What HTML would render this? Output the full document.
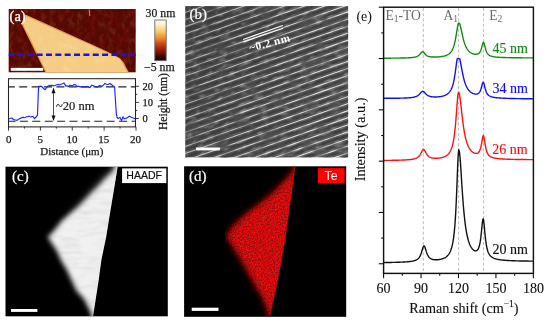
<!DOCTYPE html>
<html><head><meta charset="utf-8">
<style>
html,body{margin:0;padding:0;background:#fff;}
body{width:550px;height:325px;overflow:hidden;position:relative;}
svg{position:absolute;left:0;top:0;display:block;}
.serif{font-family:"Liberation Serif","DejaVu Serif",serif;}
.sans{font-family:"Liberation Sans","DejaVu Sans",sans-serif;}
</style></head>
<body>
<svg width="550" height="325" viewBox="0 0 550 325">
<defs>
  <filter id="afmnoise" x="0" y="0" width="1" height="1">
    <feTurbulence type="fractalNoise" baseFrequency="0.22 0.14" numOctaves="3" seed="4" result="n"/>
    <feColorMatrix in="n" type="matrix" values="0 0 0 0 0.55  0 0 0 0 0.08  0 0 0 0 0.03  0 0 0 0.8 -0.33" result="c"/>
    <feComposite in="c" in2="SourceGraphic" operator="in"/>
  </filter>
  <filter id="afmdark" x="0" y="0" width="1" height="1">
    <feTurbulence type="fractalNoise" baseFrequency="0.07" numOctaves="2" seed="11" result="n"/>
    <feColorMatrix in="n" type="matrix" values="0 0 0 0 0.12  0 0 0 0 0.0  0 0 0 0 0  0 0 0 1.3 -0.45" result="c"/>
    <feComposite in="c" in2="SourceGraphic" operator="in"/>
  </filter>
  <filter id="flakenoise" x="0" y="0" width="1" height="1">
    <feTurbulence type="fractalNoise" baseFrequency="0.14" numOctaves="2" seed="9" result="n"/>
    <feColorMatrix in="n" type="matrix" values="0 0 0 0 1  0 0 0 0 0.9  0 0 0 0 0.66  0 0 0 0.7 -0.38" result="c"/>
    <feComposite in="c" in2="SourceGraphic" operator="in"/>
  </filter>
  <filter id="temdark" x="0" y="0" width="1" height="1">
    <feTurbulence type="fractalNoise" baseFrequency="0.09 0.22" numOctaves="3" seed="2" result="n"/>
    <feColorMatrix in="n" type="matrix" values="0 0 0 0 0.08  0 0 0 0 0.08  0 0 0 0 0.08  0 0 0 -2.8 1.6" result="c"/>
    <feComposite in="c" in2="SourceGraphic" operator="in"/>
  </filter>
  <filter id="temlight" x="0" y="0" width="1" height="1">
    <feTurbulence type="fractalNoise" baseFrequency="0.1 0.25" numOctaves="2" seed="7" result="n"/>
    <feColorMatrix in="n" type="matrix" values="0 0 0 0 0.7  0 0 0 0 0.7  0 0 0 0 0.7  0 0 0 1.3 -0.68" result="c"/>
    <feComposite in="c" in2="SourceGraphic" operator="in"/>
  </filter>
  <filter id="fringeVar" x="185" y="6" width="164" height="152" filterUnits="userSpaceOnUse">
    <feTurbulence type="fractalNoise" baseFrequency="0.07" numOctaves="2" seed="8" result="n"/>
    <feColorMatrix in="n" type="matrix" values="0 0 0 0 0  0 0 0 0 0  0 0 0 0 0  0 0 0 2.4 -0.35" result="m"/>
    <feComposite in="SourceGraphic" in2="m" operator="in"/>
  </filter>
  <filter id="blurT" x="-0.2" y="-0.2" width="1.4" height="1.4">
    <feGaussianBlur stdDeviation="2.9"/>
  </filter>
  <filter id="blurW" x="-0.3" y="-0.3" width="1.6" height="1.6">
    <feGaussianBlur stdDeviation="4.2"/>
  </filter>
  <linearGradient id="gTop" x1="0" y1="172" x2="0" y2="215" gradientUnits="userSpaceOnUse">
    <stop offset="0" stop-color="#fff"/><stop offset="1" stop-color="#000"/>
  </linearGradient>
  <linearGradient id="gBot" x1="0" y1="166" x2="0" y2="225" gradientUnits="userSpaceOnUse">
    <stop offset="0" stop-color="#000"/><stop offset="1" stop-color="#fff"/>
  </linearGradient>
  <mask id="topMaskC" maskUnits="userSpaceOnUse" x="0" y="160" width="180" height="165"><rect x="0" y="160" width="180" height="165" fill="url(#gTop)"/></mask>
  <mask id="botMaskC" maskUnits="userSpaceOnUse" x="0" y="160" width="180" height="165"><rect x="0" y="160" width="180" height="165" fill="url(#gBot)"/></mask>
  <filter id="blurR" x="-0.2" y="-0.2" width="1.4" height="1.4">
    <feGaussianBlur stdDeviation="3"/>
  </filter>
  <filter id="soft" x="-0.1" y="-0.1" width="1.2" height="1.2">
    <feGaussianBlur stdDeviation="0.35"/>
  </filter>
  <filter id="rednoise" x="0" y="0" width="1" height="1">
    <feTurbulence type="fractalNoise" baseFrequency="0.65" numOctaves="2" seed="5" result="n"/>
    <feColorMatrix in="n" type="matrix" values="0 0 0 0 0  0 0 0 0 0  0 0 0 0 0  0 0 0 -1.0 1.32" result="c"/>
    <feComposite in="SourceGraphic" in2="c" operator="in"/>
  </filter>
  <filter id="haadfnoise" x="0" y="0" width="1" height="1">
    <feTurbulence type="fractalNoise" baseFrequency="0.05 0.2" numOctaves="2" seed="3" result="n"/>
    <feColorMatrix in="n" type="matrix" values="0 0 0 0 0.4  0 0 0 0 0.4  0 0 0 0 0.4  0 0 0 0.9 -0.38" result="c"/>
    <feComposite in="c" in2="SourceGraphic" operator="in"/>
  </filter>
  <linearGradient id="cbar" x1="0" y1="0" x2="0" y2="1">
    <stop offset="0" stop-color="#fffcf0"/>
    <stop offset="0.12" stop-color="#fdefc8"/>
    <stop offset="0.3" stop-color="#f7c560"/>
    <stop offset="0.45" stop-color="#ea8a2c"/>
    <stop offset="0.6" stop-color="#c64410"/>
    <stop offset="0.76" stop-color="#8a1a02"/>
    <stop offset="0.9" stop-color="#3a0400"/>
    <stop offset="1" stop-color="#160000"/>
  </linearGradient>
  <linearGradient id="fringeFade" x1="0" y1="0" x2="1" y2="0.3">
    <stop offset="0" stop-color="#fff" stop-opacity="0.6"/>
    <stop offset="0.5" stop-color="#fff" stop-opacity="0.8"/>
    <stop offset="1" stop-color="#fff" stop-opacity="1"/>
  </linearGradient>
  <linearGradient id="temBg" x1="0" y1="0" x2="1" y2="0.4">
    <stop offset="0" stop-color="#404040"/>
    <stop offset="1" stop-color="#5a5a5a"/>
  </linearGradient>
  <mask id="fringeMask"><rect x="185" y="6" width="164" height="152" fill="url(#fringeFade)"/></mask>
  <clipPath id="clipA"><rect x="8.5" y="9" width="127.3" height="63.5"/></clipPath>
  <clipPath id="clipB"><rect x="185.2" y="6.1" width="163" height="151.5"/></clipPath>
  <clipPath id="clipC"><polygon points="-50,166.7 117.6,166.7 112.2,200 106.2,236.9 101.4,260 98.8,279.6 93.1,316.3 -50,316.3"/></clipPath>
  <clipPath id="clipD"><polygon points="130,166.3 295.6,166.3 288.8,214.2 285.2,240 279.1,274.3 270.2,316.8 130,316.8"/></clipPath>
  <clipPath id="clipE"><rect x="383.6" y="7.2" width="149.8" height="266.2"/></clipPath>
</defs>

<!-- ============ Panel (a) AFM ============ -->
<g clip-path="url(#clipA)">
  <rect x="8.5" y="9" width="127.3" height="63.5" fill="#520b02"/>
  <rect x="8.5" y="9" width="127.3" height="63.5" fill="#fff" filter="url(#afmnoise)"/>
  <rect x="8.5" y="9" width="127.3" height="63.5" fill="#fff" filter="url(#afmdark)"/>
  <polygon points="25.6,15.3 95,46.5 111.1,54 119.8,58.8 123,62.6 125.1,66.9 128.2,72.6 46.3,72.6 22.2,23.6" fill="#f4cc84" stroke="#e2a456" stroke-width="1.3" stroke-linejoin="round"/>
  <polygon points="25.6,15.3 95,46.5 111.1,54 119.8,58.8 123,62.6 125.1,66.9 128.2,72.6 46.3,72.6 22.2,23.6" fill="#fff" filter="url(#flakenoise)"/>
  <line x1="89.3" y1="9.5" x2="89.8" y2="16" stroke="#d09050" stroke-width="1"/>
  <line x1="8.5" y1="54.8" x2="135.8" y2="54.8" stroke="#1414ee" stroke-width="2.6" stroke-dasharray="6 3.35" stroke-dashoffset="-0.1"/>
  <rect x="10.8" y="67.9" width="32.4" height="2.9" fill="#fff"/>
</g>
<text x="9.6" y="20.6" class="serif" font-size="14.5" fill="#fff" stroke="#fff" stroke-width="0.25">(a)</text>

<!-- colorbar -->
<rect x="154.8" y="20" width="11.4" height="40.7" fill="url(#cbar)" stroke="#6a6a6a" stroke-width="0.9"/>
<g class="serif" font-size="11.8" fill="#1a1a1a" stroke="#1a1a1a" stroke-width="0.25" text-anchor="middle">
<text x="160.4" y="16.7">30 nm</text>
<text x="159.4" y="70.7">−5 nm</text>
</g>

<!-- ============ Profile plot ============ -->
<g stroke="#222" stroke-width="0.9" fill="none">
  <line x1="8.5" y1="86.9" x2="135.5" y2="86.9" stroke-dasharray="8 4.4" stroke-dashoffset="1.7" stroke-width="1.1"/>
  <line x1="8.5" y1="121.2" x2="135.5" y2="121.2" stroke-dasharray="8 4.4" stroke-dashoffset="1.0" stroke-width="1.1"/>
</g>
<path d="M8.50,118.90 L10.00,118.50 L11.00,118.20 L12.00,117.90 L13.50,119.60 L15.50,120.00 L17.00,120.30 L19.00,118.90 L20.00,118.40 L21.00,117.90 L22.00,117.60 L23.00,117.20 L24.00,117.90 L25.00,117.50 L26.00,117.00 L27.00,116.80 L28.00,116.60 L29.00,116.10 L30.00,116.80 L31.00,117.00 L32.00,116.30 L33.00,116.50 L34.50,118.50 L36.00,117.00 L37.50,115.10 L38.00,101.20 L38.50,88.50 L39.00,86.40 L40.00,86.40 L41.00,86.20 L42.00,86.80 L43.50,88.50 L45.00,89.60 L46.50,87.80 L48.00,85.90 L50.00,85.40 L52.00,85.30 L53.50,85.90 L55.00,85.50 L56.50,84.80 L58.00,84.50 L59.50,84.80 L61.00,84.20 L62.50,83.80 L64.00,83.00 L65.00,84.60 L66.00,86.20 L67.00,85.60 L68.00,86.60 L69.00,86.00 L70.00,85.10 L71.50,85.80 L73.00,85.30 L74.00,84.60 L75.00,84.50 L76.00,85.20 L77.00,86.60 L78.50,86.20 L80.00,86.90 L81.50,86.60 L83.00,87.10 L84.50,86.60 L86.00,87.10 L87.00,86.50 L88.00,86.90 L89.00,87.20 L90.00,87.50 L91.00,86.20 L92.00,85.10 L93.50,85.80 L95.00,86.40 L96.00,86.90 L97.00,87.10 L98.50,86.20 L100.00,85.40 L101.00,85.90 L102.00,86.40 L103.50,84.80 L105.00,83.50 L106.50,84.20 L108.00,84.50 L109.00,83.90 L110.00,83.50 L111.00,84.30 L112.00,85.00 L113.00,85.80 L114.00,86.40 L114.60,87.20 L115.50,101.00 L116.30,114.00 L117.00,117.00 L118.00,118.50 L119.00,117.90 L120.00,117.50 L121.00,119.40 L121.50,120.30 L122.30,118.80 L123.00,117.00 L124.00,118.40 L124.50,118.90 L125.80,118.30 L127.00,117.90 L128.30,117.00 L129.50,116.10 L130.80,116.90 L132.00,117.50 L133.80,118.20 L135.50,118.90" fill="none" stroke="#1428ff" stroke-width="1.15"/>
<g stroke="#222" stroke-width="0.8">
  <line x1="53.5" y1="89" x2="53.5" y2="119.5"/>
</g>
<polygon points="53.5,87.6 51.5,93.2 55.5,93.2" fill="#111"/>
<polygon points="53.5,121 51.5,115.4 55.5,115.4" fill="#111"/>
<text x="56" y="110" class="serif" font-size="12.5" fill="#1a1a1a" stroke="#1a1a1a" stroke-width="0.2">~20 nm</text>
<rect x="8.5" y="78.7" width="127" height="48.2" fill="none" stroke="#222" stroke-width="1.05"/>
<g stroke="#222" stroke-width="0.9">
<line x1="8.50" y1="126.9" x2="8.50" y2="130.6"/>
<line x1="24.44" y1="126.9" x2="24.44" y2="128.6"/>
<line x1="40.38" y1="126.9" x2="40.38" y2="130.6"/>
<line x1="56.31" y1="126.9" x2="56.31" y2="128.6"/>
<line x1="72.25" y1="126.9" x2="72.25" y2="130.6"/>
<line x1="88.19" y1="126.9" x2="88.19" y2="128.6"/>
<line x1="104.12" y1="126.9" x2="104.12" y2="130.6"/>
<line x1="120.06" y1="126.9" x2="120.06" y2="128.6"/>
<line x1="136.00" y1="126.9" x2="136.00" y2="130.6"/>
<line x1="135.5" y1="118.50" x2="138.9" y2="118.50"/>
<line x1="135.5" y1="110.45" x2="137.3" y2="110.45"/>
<line x1="135.5" y1="102.40" x2="138.9" y2="102.40"/>
<line x1="135.5" y1="94.35" x2="137.3" y2="94.35"/>
<line x1="135.5" y1="86.30" x2="138.9" y2="86.30"/>
</g>
<g class="serif" font-size="10.5" fill="#1a1a1a" stroke="#1a1a1a" stroke-width="0.25">
  <text x="142.6" y="90.2">20</text>
  <text x="142.6" y="106">10</text>
  <text x="142.6" y="122.2">0</text>
  <g text-anchor="middle" font-size="11">
  <text x="8.8" y="143.3">0</text>
  <text x="40.2" y="143.3">5</text>
  <text x="72" y="143.3">10</text>
  <text x="103.8" y="143.3">15</text>
  <text x="135.6" y="143.3">20</text>
  <text x="71.8" y="154.8">Distance (μm)</text>
  </g>
  <text transform="translate(166.5,101.6) rotate(-90)" text-anchor="middle" font-size="11.6">Height (nm)</text>
</g>

<!-- ============ Panel (b) HRTEM ============ -->
<g clip-path="url(#clipB)">
  <rect x="185.2" y="6.1" width="163" height="151.5" fill="url(#temBg)"/>
  <rect x="160" y="-30" width="215" height="225" fill="#fff" filter="url(#temdark)" transform="rotate(-19.3 267 82)"/>
  <rect x="160" y="-30" width="215" height="225" fill="#fff" filter="url(#temlight)" transform="rotate(-19.3 267 82)"/>
  <g mask="url(#fringeMask)"><g filter="url(#fringeVar)">
    <g stroke="#202020" stroke-width="2.4" opacity="0.45" transform="translate(0,3.3)">
    <line x1="180" y1="-204.20" x2="352" y2="-264.40"/>
<line x1="180" y1="-197.15" x2="352" y2="-257.35"/>
<line x1="180" y1="-190.10" x2="352" y2="-250.30"/>
<line x1="180" y1="-183.05" x2="352" y2="-243.25"/>
<line x1="180" y1="-176.00" x2="352" y2="-236.20"/>
<line x1="180" y1="-168.95" x2="352" y2="-229.15"/>
<line x1="180" y1="-161.90" x2="352" y2="-222.10"/>
<line x1="180" y1="-154.85" x2="352" y2="-215.05"/>
<line x1="180" y1="-147.80" x2="352" y2="-208.00"/>
<line x1="180" y1="-140.75" x2="352" y2="-200.95"/>
<line x1="180" y1="-133.70" x2="352" y2="-193.90"/>
<line x1="180" y1="-126.65" x2="352" y2="-186.85"/>
<line x1="180" y1="-119.60" x2="352" y2="-179.80"/>
<line x1="180" y1="-112.55" x2="352" y2="-172.75"/>
<line x1="180" y1="-105.50" x2="352" y2="-165.70"/>
<line x1="180" y1="-98.45" x2="352" y2="-158.65"/>
<line x1="180" y1="-91.40" x2="352" y2="-151.60"/>
<line x1="180" y1="-84.35" x2="352" y2="-144.55"/>
<line x1="180" y1="-77.30" x2="352" y2="-137.50"/>
<line x1="180" y1="-70.25" x2="352" y2="-130.45"/>
<line x1="180" y1="-63.20" x2="352" y2="-123.40"/>
<line x1="180" y1="-56.15" x2="352" y2="-116.35"/>
<line x1="180" y1="-49.10" x2="352" y2="-109.30"/>
<line x1="180" y1="-42.05" x2="352" y2="-102.25"/>
<line x1="180" y1="-35.00" x2="352" y2="-95.20"/>
<line x1="180" y1="-27.95" x2="352" y2="-88.15"/>
<line x1="180" y1="-20.90" x2="352" y2="-81.10"/>
<line x1="180" y1="-13.85" x2="352" y2="-74.05"/>
<line x1="180" y1="-6.80" x2="352" y2="-67.00"/>
<line x1="180" y1="0.25" x2="352" y2="-59.95"/>
<line x1="180" y1="7.30" x2="352" y2="-52.90"/>
<line x1="180" y1="14.35" x2="352" y2="-45.85"/>
<line x1="180" y1="21.40" x2="352" y2="-38.80"/>
<line x1="180" y1="28.45" x2="352" y2="-31.75"/>
<line x1="180" y1="35.50" x2="352" y2="-24.70"/>
<line x1="180" y1="42.55" x2="352" y2="-17.65"/>
<line x1="180" y1="49.60" x2="352" y2="-10.60"/>
<line x1="180" y1="56.65" x2="352" y2="-3.55"/>
<line x1="180" y1="63.70" x2="352" y2="3.50"/>
<line x1="180" y1="70.75" x2="352" y2="10.55"/>
<line x1="180" y1="77.80" x2="352" y2="17.60"/>
<line x1="180" y1="84.85" x2="352" y2="24.65"/>
<line x1="180" y1="91.90" x2="352" y2="31.70"/>
<line x1="180" y1="98.95" x2="352" y2="38.75"/>
<line x1="180" y1="106.00" x2="352" y2="45.80"/>
<line x1="180" y1="113.05" x2="352" y2="52.85"/>
<line x1="180" y1="120.10" x2="352" y2="59.90"/>
<line x1="180" y1="127.15" x2="352" y2="66.95"/>
<line x1="180" y1="134.20" x2="352" y2="74.00"/>
<line x1="180" y1="141.25" x2="352" y2="81.05"/>
<line x1="180" y1="148.30" x2="352" y2="88.10"/>
<line x1="180" y1="155.35" x2="352" y2="95.15"/>
<line x1="180" y1="162.40" x2="352" y2="102.20"/>
<line x1="180" y1="169.45" x2="352" y2="109.25"/>
<line x1="180" y1="176.50" x2="352" y2="116.30"/>
<line x1="180" y1="183.55" x2="352" y2="123.35"/>
<line x1="180" y1="190.60" x2="352" y2="130.40"/>
<line x1="180" y1="197.65" x2="352" y2="137.45"/>
<line x1="180" y1="204.70" x2="352" y2="144.50"/>
<line x1="180" y1="211.75" x2="352" y2="151.55"/>
<line x1="180" y1="218.80" x2="352" y2="158.60"/>
<line x1="180" y1="225.85" x2="352" y2="165.65"/>
<line x1="180" y1="232.90" x2="352" y2="172.70"/>
<line x1="180" y1="239.95" x2="352" y2="179.75"/>
<line x1="180" y1="247.00" x2="352" y2="186.80"/>
<line x1="180" y1="254.05" x2="352" y2="193.85"/>
<line x1="180" y1="261.10" x2="352" y2="200.90"/>
<line x1="180" y1="268.15" x2="352" y2="207.95"/>
<line x1="180" y1="275.20" x2="352" y2="215.00"/>
<line x1="180" y1="282.25" x2="352" y2="222.05"/>
    </g>
    <g stroke="#ececec" stroke-width="1.05" filter="url(#soft)">
    <line x1="180" y1="-204.20" x2="352" y2="-264.40"/>
<line x1="180" y1="-197.15" x2="352" y2="-257.35"/>
<line x1="180" y1="-190.10" x2="352" y2="-250.30"/>
<line x1="180" y1="-183.05" x2="352" y2="-243.25"/>
<line x1="180" y1="-176.00" x2="352" y2="-236.20"/>
<line x1="180" y1="-168.95" x2="352" y2="-229.15"/>
<line x1="180" y1="-161.90" x2="352" y2="-222.10"/>
<line x1="180" y1="-154.85" x2="352" y2="-215.05"/>
<line x1="180" y1="-147.80" x2="352" y2="-208.00"/>
<line x1="180" y1="-140.75" x2="352" y2="-200.95"/>
<line x1="180" y1="-133.70" x2="352" y2="-193.90"/>
<line x1="180" y1="-126.65" x2="352" y2="-186.85"/>
<line x1="180" y1="-119.60" x2="352" y2="-179.80"/>
<line x1="180" y1="-112.55" x2="352" y2="-172.75"/>
<line x1="180" y1="-105.50" x2="352" y2="-165.70"/>
<line x1="180" y1="-98.45" x2="352" y2="-158.65"/>
<line x1="180" y1="-91.40" x2="352" y2="-151.60"/>
<line x1="180" y1="-84.35" x2="352" y2="-144.55"/>
<line x1="180" y1="-77.30" x2="352" y2="-137.50"/>
<line x1="180" y1="-70.25" x2="352" y2="-130.45"/>
<line x1="180" y1="-63.20" x2="352" y2="-123.40"/>
<line x1="180" y1="-56.15" x2="352" y2="-116.35"/>
<line x1="180" y1="-49.10" x2="352" y2="-109.30"/>
<line x1="180" y1="-42.05" x2="352" y2="-102.25"/>
<line x1="180" y1="-35.00" x2="352" y2="-95.20"/>
<line x1="180" y1="-27.95" x2="352" y2="-88.15"/>
<line x1="180" y1="-20.90" x2="352" y2="-81.10"/>
<line x1="180" y1="-13.85" x2="352" y2="-74.05"/>
<line x1="180" y1="-6.80" x2="352" y2="-67.00"/>
<line x1="180" y1="0.25" x2="352" y2="-59.95"/>
<line x1="180" y1="7.30" x2="352" y2="-52.90"/>
<line x1="180" y1="14.35" x2="352" y2="-45.85"/>
<line x1="180" y1="21.40" x2="352" y2="-38.80"/>
<line x1="180" y1="28.45" x2="352" y2="-31.75"/>
<line x1="180" y1="35.50" x2="352" y2="-24.70"/>
<line x1="180" y1="42.55" x2="352" y2="-17.65"/>
<line x1="180" y1="49.60" x2="352" y2="-10.60"/>
<line x1="180" y1="56.65" x2="352" y2="-3.55"/>
<line x1="180" y1="63.70" x2="352" y2="3.50"/>
<line x1="180" y1="70.75" x2="352" y2="10.55"/>
<line x1="180" y1="77.80" x2="352" y2="17.60"/>
<line x1="180" y1="84.85" x2="352" y2="24.65"/>
<line x1="180" y1="91.90" x2="352" y2="31.70"/>
<line x1="180" y1="98.95" x2="352" y2="38.75"/>
<line x1="180" y1="106.00" x2="352" y2="45.80"/>
<line x1="180" y1="113.05" x2="352" y2="52.85"/>
<line x1="180" y1="120.10" x2="352" y2="59.90"/>
<line x1="180" y1="127.15" x2="352" y2="66.95"/>
<line x1="180" y1="134.20" x2="352" y2="74.00"/>
<line x1="180" y1="141.25" x2="352" y2="81.05"/>
<line x1="180" y1="148.30" x2="352" y2="88.10"/>
<line x1="180" y1="155.35" x2="352" y2="95.15"/>
<line x1="180" y1="162.40" x2="352" y2="102.20"/>
<line x1="180" y1="169.45" x2="352" y2="109.25"/>
<line x1="180" y1="176.50" x2="352" y2="116.30"/>
<line x1="180" y1="183.55" x2="352" y2="123.35"/>
<line x1="180" y1="190.60" x2="352" y2="130.40"/>
<line x1="180" y1="197.65" x2="352" y2="137.45"/>
<line x1="180" y1="204.70" x2="352" y2="144.50"/>
<line x1="180" y1="211.75" x2="352" y2="151.55"/>
<line x1="180" y1="218.80" x2="352" y2="158.60"/>
<line x1="180" y1="225.85" x2="352" y2="165.65"/>
<line x1="180" y1="232.90" x2="352" y2="172.70"/>
<line x1="180" y1="239.95" x2="352" y2="179.75"/>
<line x1="180" y1="247.00" x2="352" y2="186.80"/>
<line x1="180" y1="254.05" x2="352" y2="193.85"/>
<line x1="180" y1="261.10" x2="352" y2="200.90"/>
<line x1="180" y1="268.15" x2="352" y2="207.95"/>
<line x1="180" y1="275.20" x2="352" y2="215.00"/>
<line x1="180" y1="282.25" x2="352" y2="222.05"/>
    </g>
  </g></g>
  <rect x="196" y="147.5" width="23.8" height="2.9" fill="#fff"/>
</g>
<g stroke="#fff" stroke-width="1.05">
  <line x1="243.1" y1="39.4" x2="282.8" y2="25.5"/>
  <line x1="243.3" y1="42" x2="283.2" y2="28.2"/>
</g>
<text transform="translate(250.3,51.6) rotate(-14.5)" class="serif" font-size="11.3" font-weight="bold" letter-spacing="0.5" fill="#fff">~0.2 nm</text>
<text x="189.6" y="18.6" class="serif" font-size="15" fill="#fff" stroke="#fff" stroke-width="0.2">(b)</text>

<!-- ============ Panel (c) HAADF ============ -->
<rect x="5.5" y="166.7" width="162.3" height="149.6" fill="#000"/>
<g clip-path="url(#clipC)">
  <polygon points="160,150 119.5,150 117.5,163 114.5,172 106.5,178.5 100.5,185 92.4,192.5 85.5,199.5 78.4,206.5 70,213.5 62,220.5 55.8,228.5 51.5,233.5 47.8,237 57.5,252.1 61.1,260.5 66.3,268.7 74,285.3 76.4,290.5 84.3,299.2 91.2,313 94,330 160,330" fill="#f0f0f0" filter="url(#blurT)"/>
  <g mask="url(#topMaskC)"><polygon points="160,150 119.5,150 117.5,163 114.5,172 106.5,178.5 100.5,185 92.4,192.5 85.5,199.5 78.4,206.5 70,213.5 62,220.5 55.8,228.5 51.5,233.5 47.8,237 57.5,252.1 61.1,260.5 66.3,268.7 74,285.3 76.4,290.5 84.3,299.2 91.2,313 94,330 160,330" fill="#f0f0f0" filter="url(#blurW)"/></g>
  <polygon points="160,150 119.5,150 117.5,163 114.5,172 106.5,178.5 100.5,185 92.4,192.5 85.5,199.5 78.4,206.5 70,213.5 62,220.5 55.8,228.5 51.5,233.5 47.8,237 57.5,252.1 61.1,260.5 66.3,268.7 74,285.3 76.4,290.5 84.3,299.2 91.2,313 94,330 160,330" fill="#fff" filter="url(#haadfnoise)" opacity="0.5"/>
</g>
<rect x="11" y="309" width="26.4" height="2.9" fill="#fff"/>
<rect x="122.1" y="168.4" width="44.2" height="14.7" fill="#fff"/>
<text x="144.1" y="179.4" class="sans" font-size="10.5" fill="#111" stroke="#111" stroke-width="0.2" text-anchor="middle">HAADF</text>
<text x="12" y="180.8" class="serif" font-size="15" fill="#fff" stroke="#fff" stroke-width="0.2">(c)</text>

<!-- ============ Panel (d) EDS ============ -->
<rect x="184.1" y="166.3" width="162.1" height="150.5" fill="#000"/>
<g clip-path="url(#clipD)">
  <g filter="url(#rednoise)">
    <polygon points="340,150 298,150 294.5,165 292.3,171.2 286.2,178.8 278.5,186.5 270.8,194.2 263,200.4 255.4,206.5 247.7,211.9 240.5,218.5 234.7,224 230.5,229.5 225.4,235.5 239.9,258.6 251.6,279.5 262.1,297.8 268.7,313.5 271,330 340,330" fill="#f41010" filter="url(#blurR)"/>
  </g>
</g>
<rect x="191.7" y="307.7" width="26.8" height="3.2" fill="#fff"/>
<rect x="317.8" y="168.1" width="26.8" height="15" fill="#ff0000"/>
<text x="331" y="179.9" class="sans" font-size="12.3" fill="#fff" text-anchor="middle">Te</text>
<text x="189" y="180.6" class="serif" font-size="15" fill="#fff" stroke="#fff" stroke-width="0.2">(d)</text>

<!-- ============ Panel (e) Raman ============ -->
<g stroke="#a8a8a8" stroke-width="0.8" stroke-dasharray="3 2.2">
  <line x1="423.3" y1="8" x2="423.3" y2="273"/>
  <line x1="458.6" y1="8" x2="458.6" y2="273"/>
  <line x1="483.6" y1="8" x2="483.6" y2="273"/>
</g>
<g clip-path="url(#clipE)" fill="none" stroke-width="1.4" stroke-linejoin="round">
  <path d="M383.60,58.23 L384.00,58.23 L384.40,58.23 L384.80,58.22 L385.20,58.22 L385.60,58.22 L386.00,58.22 L386.40,58.21 L386.80,58.21 L387.20,58.21 L387.60,58.20 L388.00,58.20 L388.40,58.20 L388.80,58.19 L389.20,58.19 L389.60,58.19 L390.00,58.18 L390.40,58.18 L390.80,58.18 L391.20,58.17 L391.60,58.17 L392.00,58.17 L392.40,58.16 L392.80,58.16 L393.20,58.15 L393.60,58.15 L394.00,58.15 L394.40,58.14 L394.80,58.14 L395.20,58.13 L395.60,58.13 L396.00,58.12 L396.40,58.12 L396.80,58.11 L397.20,58.11 L397.60,58.10 L398.00,58.10 L398.40,58.09 L398.80,58.08 L399.20,58.08 L399.60,58.07 L400.00,58.06 L400.40,58.06 L400.80,58.05 L401.20,58.04 L401.60,58.03 L402.00,58.03 L402.40,58.02 L402.80,58.01 L403.20,58.00 L403.60,57.99 L404.00,57.98 L404.40,57.97 L404.80,57.96 L405.20,57.94 L405.60,57.93 L406.00,57.92 L406.40,57.90 L406.80,57.89 L407.20,57.87 L407.60,57.86 L408.00,57.84 L408.40,57.82 L408.80,57.80 L409.20,57.78 L409.60,57.75 L410.00,57.73 L410.40,57.70 L410.80,57.67 L411.20,57.64 L411.60,57.60 L412.00,57.56 L412.40,57.52 L412.80,57.47 L413.20,57.42 L413.60,57.36 L414.00,57.30 L414.40,57.23 L414.80,57.15 L415.20,57.06 L415.60,56.96 L416.00,56.84 L416.40,56.71 L416.80,56.56 L417.20,56.38 L417.60,56.19 L418.00,55.96 L418.40,55.69 L418.80,55.38 L419.20,55.03 L419.60,54.63 L420.00,54.19 L420.40,53.70 L420.80,53.19 L421.20,52.70 L421.60,52.26 L422.00,51.94 L422.40,51.77 L422.80,51.80 L423.20,52.00 L423.60,52.35 L424.00,52.79 L424.40,53.28 L424.80,53.76 L425.20,54.22 L425.60,54.63 L426.00,55.00 L426.40,55.32 L426.80,55.59 L427.20,55.83 L427.60,56.03 L428.00,56.20 L428.40,56.34 L428.80,56.47 L429.20,56.57 L429.60,56.66 L430.00,56.74 L430.40,56.80 L430.80,56.86 L431.20,56.90 L431.60,56.94 L432.00,56.97 L432.40,57.00 L432.80,57.02 L433.20,57.03 L433.60,57.04 L434.00,57.05 L434.40,57.05 L434.80,57.05 L435.20,57.05 L435.60,57.04 L436.00,57.03 L436.40,57.01 L436.80,57.00 L437.20,56.98 L437.60,56.95 L438.00,56.93 L438.40,56.90 L438.80,56.87 L439.20,56.83 L439.60,56.79 L440.00,56.75 L440.40,56.70 L440.80,56.65 L441.20,56.60 L441.60,56.54 L442.00,56.48 L442.40,56.41 L442.80,56.34 L443.20,56.26 L443.60,56.17 L444.00,56.07 L444.40,55.97 L444.80,55.86 L445.20,55.74 L445.60,55.61 L446.00,55.47 L446.40,55.32 L446.80,55.15 L447.20,54.96 L447.60,54.76 L448.00,54.54 L448.40,54.29 L448.80,54.02 L449.20,53.72 L449.60,53.38 L450.00,53.01 L450.40,52.60 L450.80,52.13 L451.20,51.61 L451.60,51.03 L452.00,50.36 L452.40,49.61 L452.80,48.76 L453.20,47.79 L453.60,46.69 L454.00,45.44 L454.40,44.01 L454.80,42.40 L455.20,40.57 L455.60,38.54 L456.00,36.30 L456.40,33.89 L456.80,31.39 L457.20,28.91 L457.60,26.61 L458.00,24.71 L458.40,23.41 L458.80,22.88 L459.20,23.05 L459.60,23.70 L460.00,24.75 L460.40,26.15 L460.80,27.79 L461.20,29.59 L461.60,31.46 L462.00,33.34 L462.40,35.17 L462.80,36.93 L463.20,38.58 L463.60,40.11 L464.00,41.52 L464.40,42.81 L464.80,43.99 L465.20,45.06 L465.60,46.03 L466.00,46.91 L466.40,47.70 L466.80,48.42 L467.20,49.07 L467.60,49.66 L468.00,50.19 L468.40,50.68 L468.80,51.11 L469.20,51.51 L469.60,51.87 L470.00,52.20 L470.40,52.49 L470.80,52.76 L471.20,53.01 L471.60,53.22 L472.00,53.42 L472.40,53.60 L472.80,53.75 L473.20,53.89 L473.60,54.01 L474.00,54.10 L474.40,54.19 L474.80,54.25 L475.20,54.29 L475.60,54.31 L476.00,54.31 L476.40,54.29 L476.80,54.24 L477.20,54.15 L477.60,54.03 L478.00,53.87 L478.40,53.65 L478.80,53.37 L479.20,53.02 L479.60,52.56 L480.00,51.99 L480.40,51.27 L480.80,50.37 L481.20,49.27 L481.60,47.95 L482.00,46.44 L482.40,44.86 L482.80,43.45 L483.20,42.51 L483.60,42.34 L484.00,43.01 L484.40,44.31 L484.80,45.93 L485.20,47.57 L485.60,49.07 L486.00,50.37 L486.40,51.45 L486.80,52.34 L487.20,53.07 L487.60,53.67 L488.00,54.17 L488.40,54.58 L488.80,54.92 L489.20,55.22 L489.60,55.47 L490.00,55.68 L490.40,55.86 L490.80,56.03 L491.20,56.17 L491.60,56.29 L492.00,56.40 L492.40,56.50 L492.80,56.59 L493.20,56.67 L493.60,56.74 L494.00,56.81 L494.40,56.87 L494.80,56.92 L495.20,56.97 L495.60,57.02 L496.00,57.06 L496.40,57.10 L496.80,57.14 L497.20,57.17 L497.60,57.21 L498.00,57.24 L498.40,57.26 L498.80,57.29 L499.20,57.32 L499.60,57.34 L500.00,57.36 L500.40,57.38 L500.80,57.40 L501.20,57.42 L501.60,57.44 L502.00,57.46 L502.40,57.47 L502.80,57.49 L503.20,57.50 L503.60,57.52 L504.00,57.53 L504.40,57.55 L504.80,57.56 L505.20,57.57 L505.60,57.58 L506.00,57.59 L506.40,57.60 L506.80,57.61 L507.20,57.62 L507.60,57.63 L508.00,57.64 L508.40,57.65 L508.80,57.66 L509.20,57.67 L509.60,57.67 L510.00,57.68 L510.40,57.69 L510.80,57.70 L511.20,57.70 L511.60,57.71 L512.00,57.72 L512.40,57.72 L512.80,57.73 L513.20,57.73 L513.60,57.74 L514.00,57.74 L514.40,57.75 L514.80,57.75 L515.20,57.76 L515.60,57.76 L516.00,57.77 L516.40,57.77 L516.80,57.78 L517.20,57.78 L517.60,57.79 L518.00,57.79 L518.40,57.79 L518.80,57.80 L519.20,57.80 L519.60,57.80 L520.00,57.81 L520.40,57.81 L520.80,57.81 L521.20,57.82 L521.60,57.82 L522.00,57.82 L522.40,57.83 L522.80,57.83 L523.20,57.83 L523.60,57.83 L524.00,57.84 L524.40,57.84 L524.80,57.84 L525.20,57.84 L525.60,57.85 L526.00,57.85 L526.40,57.85 L526.80,57.85 L527.20,57.85 L527.60,57.86 L528.00,57.86 L528.40,57.86 L528.80,57.86 L529.20,57.86 L529.60,57.87 L530.00,57.87 L530.40,57.87 L530.80,57.87 L531.20,57.87 L531.60,57.87 L532.00,57.87 L532.40,57.88 L532.80,57.88 L533.20,57.88" stroke="#148a14"/>
  <path d="M383.60,98.31 L384.00,98.31 L384.40,98.31 L384.80,98.30 L385.20,98.30 L385.60,98.30 L386.00,98.30 L386.40,98.30 L386.80,98.30 L387.20,98.30 L387.60,98.29 L388.00,98.29 L388.40,98.29 L388.80,98.29 L389.20,98.29 L389.60,98.28 L390.00,98.28 L390.40,98.28 L390.80,98.28 L391.20,98.27 L391.60,98.27 L392.00,98.27 L392.40,98.27 L392.80,98.26 L393.20,98.26 L393.60,98.26 L394.00,98.25 L394.40,98.25 L394.80,98.24 L395.20,98.24 L395.60,98.23 L396.00,98.23 L396.40,98.23 L396.80,98.22 L397.20,98.21 L397.60,98.21 L398.00,98.20 L398.40,98.20 L398.80,98.19 L399.20,98.18 L399.60,98.18 L400.00,98.17 L400.40,98.16 L400.80,98.15 L401.20,98.14 L401.60,98.13 L402.00,98.12 L402.40,98.11 L402.80,98.10 L403.20,98.09 L403.60,98.08 L404.00,98.07 L404.40,98.05 L404.80,98.04 L405.20,98.02 L405.60,98.01 L406.00,97.99 L406.40,97.97 L406.80,97.95 L407.20,97.93 L407.60,97.90 L408.00,97.88 L408.40,97.85 L408.80,97.82 L409.20,97.79 L409.60,97.76 L410.00,97.72 L410.40,97.69 L410.80,97.64 L411.20,97.60 L411.60,97.55 L412.00,97.49 L412.40,97.43 L412.80,97.37 L413.20,97.29 L413.60,97.21 L414.00,97.13 L414.40,97.03 L414.80,96.92 L415.20,96.80 L415.60,96.66 L416.00,96.51 L416.40,96.34 L416.80,96.15 L417.20,95.93 L417.60,95.69 L418.00,95.42 L418.40,95.12 L418.80,94.78 L419.20,94.40 L419.60,94.00 L420.00,93.56 L420.40,93.10 L420.80,92.65 L421.20,92.21 L421.60,91.83 L422.00,91.53 L422.40,91.34 L422.80,91.29 L423.20,91.38 L423.60,91.59 L424.00,91.91 L424.40,92.30 L424.80,92.73 L425.20,93.17 L425.60,93.60 L426.00,94.01 L426.40,94.38 L426.80,94.72 L427.20,95.03 L427.60,95.30 L428.00,95.54 L428.40,95.75 L428.80,95.93 L429.20,96.09 L429.60,96.23 L430.00,96.36 L430.40,96.46 L430.80,96.55 L431.20,96.63 L431.60,96.70 L432.00,96.76 L432.40,96.81 L432.80,96.85 L433.20,96.88 L433.60,96.91 L434.00,96.93 L434.40,96.94 L434.80,96.95 L435.20,96.95 L435.60,96.95 L436.00,96.94 L436.40,96.93 L436.80,96.92 L437.20,96.90 L437.60,96.87 L438.00,96.84 L438.40,96.81 L438.80,96.77 L439.20,96.73 L439.60,96.68 L440.00,96.63 L440.40,96.57 L440.80,96.51 L441.20,96.44 L441.60,96.36 L442.00,96.28 L442.40,96.18 L442.80,96.09 L443.20,95.98 L443.60,95.86 L444.00,95.73 L444.40,95.59 L444.80,95.44 L445.20,95.27 L445.60,95.09 L446.00,94.89 L446.40,94.67 L446.80,94.43 L447.20,94.17 L447.60,93.88 L448.00,93.56 L448.40,93.20 L448.80,92.81 L449.20,92.37 L449.60,91.88 L450.00,91.34 L450.40,90.73 L450.80,90.04 L451.20,89.26 L451.60,88.38 L452.00,87.39 L452.40,86.26 L452.80,84.98 L453.20,83.53 L453.60,81.87 L454.00,79.99 L454.40,77.87 L454.80,75.50 L455.20,72.87 L455.60,70.02 L456.00,67.00 L456.40,63.94 L456.80,61.00 L457.20,58.88 L457.60,58.62 L458.00,58.60 L458.40,58.60 L458.80,58.61 L459.20,58.62 L459.60,58.74 L460.00,59.62 L460.40,61.60 L460.80,63.76 L461.20,65.98 L461.60,68.20 L462.00,70.36 L462.40,72.44 L462.80,74.39 L463.20,76.22 L463.60,77.91 L464.00,79.46 L464.40,80.89 L464.80,82.19 L465.20,83.37 L465.60,84.45 L466.00,85.43 L466.40,86.33 L466.80,87.14 L467.20,87.88 L467.60,88.55 L468.00,89.16 L468.40,89.72 L468.80,90.23 L469.20,90.69 L469.60,91.11 L470.00,91.50 L470.40,91.85 L470.80,92.17 L471.20,92.46 L471.60,92.73 L472.00,92.96 L472.40,93.18 L472.80,93.37 L473.20,93.54 L473.60,93.69 L474.00,93.82 L474.40,93.92 L474.80,94.00 L475.20,94.07 L475.60,94.10 L476.00,94.11 L476.40,94.09 L476.80,94.04 L477.20,93.95 L477.60,93.82 L478.00,93.63 L478.40,93.38 L478.80,93.06 L479.20,92.64 L479.60,92.10 L480.00,91.42 L480.40,90.57 L480.80,89.52 L481.20,88.25 L481.60,86.79 L482.00,85.21 L482.40,83.72 L482.80,82.63 L483.20,82.23 L483.60,82.67 L484.00,83.82 L484.40,85.40 L484.80,87.09 L485.20,88.68 L485.60,90.08 L486.00,91.27 L486.40,92.26 L486.80,93.07 L487.20,93.74 L487.60,94.29 L488.00,94.76 L488.40,95.15 L488.80,95.48 L489.20,95.76 L489.60,96.00 L490.00,96.21 L490.40,96.39 L490.80,96.56 L491.20,96.70 L491.60,96.83 L492.00,96.94 L492.40,97.04 L492.80,97.14 L493.20,97.22 L493.60,97.30 L494.00,97.37 L494.40,97.44 L494.80,97.50 L495.20,97.55 L495.60,97.61 L496.00,97.66 L496.40,97.70 L496.80,97.74 L497.20,97.78 L497.60,97.82 L498.00,97.86 L498.40,97.89 L498.80,97.92 L499.20,97.95 L499.60,97.98 L500.00,98.01 L500.40,98.04 L500.80,98.06 L501.20,98.09 L501.60,98.11 L502.00,98.13 L502.40,98.15 L502.80,98.17 L503.20,98.19 L503.60,98.21 L504.00,98.23 L504.40,98.25 L504.80,98.27 L505.20,98.28 L505.60,98.30 L506.00,98.31 L506.40,98.33 L506.80,98.34 L507.20,98.36 L507.60,98.37 L508.00,98.38 L508.40,98.40 L508.80,98.41 L509.20,98.42 L509.60,98.43 L510.00,98.44 L510.40,98.46 L510.80,98.47 L511.20,98.48 L511.60,98.49 L512.00,98.50 L512.40,98.51 L512.80,98.52 L513.20,98.53 L513.60,98.54 L514.00,98.55 L514.40,98.55 L514.80,98.56 L515.20,98.57 L515.60,98.58 L516.00,98.59 L516.40,98.60 L516.80,98.60 L517.20,98.61 L517.60,98.62 L518.00,98.63 L518.40,98.63 L518.80,98.64 L519.20,98.65 L519.60,98.65 L520.00,98.66 L520.40,98.67 L520.80,98.67 L521.20,98.68 L521.60,98.69 L522.00,98.69 L522.40,98.70 L522.80,98.71 L523.20,98.71 L523.60,98.72 L524.00,98.72 L524.40,98.73 L524.80,98.73 L525.20,98.74 L525.60,98.75 L526.00,98.75 L526.40,98.76 L526.80,98.76 L527.20,98.77 L527.60,98.77 L528.00,98.78 L528.40,98.78 L528.80,98.79 L529.20,98.79 L529.60,98.80 L530.00,98.80 L530.40,98.81 L530.80,98.81 L531.20,98.81 L531.60,98.82 L532.00,98.82 L532.40,98.83 L532.80,98.83 L533.20,98.84" stroke="#1010f5"/>
  <path d="M383.60,160.45 L384.00,160.44 L384.40,160.44 L384.80,160.43 L385.20,160.43 L385.60,160.42 L386.00,160.41 L386.40,160.41 L386.80,160.40 L387.20,160.40 L387.60,160.39 L388.00,160.39 L388.40,160.38 L388.80,160.38 L389.20,160.37 L389.60,160.36 L390.00,160.36 L390.40,160.35 L390.80,160.34 L391.20,160.34 L391.60,160.33 L392.00,160.32 L392.40,160.32 L392.80,160.31 L393.20,160.30 L393.60,160.30 L394.00,160.29 L394.40,160.28 L394.80,160.27 L395.20,160.26 L395.60,160.25 L396.00,160.25 L396.40,160.24 L396.80,160.23 L397.20,160.22 L397.60,160.21 L398.00,160.20 L398.40,160.19 L398.80,160.18 L399.20,160.17 L399.60,160.15 L400.00,160.14 L400.40,160.13 L400.80,160.12 L401.20,160.10 L401.60,160.09 L402.00,160.08 L402.40,160.06 L402.80,160.05 L403.20,160.03 L403.60,160.01 L404.00,160.00 L404.40,159.98 L404.80,159.96 L405.20,159.94 L405.60,159.92 L406.00,159.89 L406.40,159.87 L406.80,159.85 L407.20,159.82 L407.60,159.79 L408.00,159.76 L408.40,159.73 L408.80,159.70 L409.20,159.66 L409.60,159.62 L410.00,159.58 L410.40,159.54 L410.80,159.49 L411.20,159.44 L411.60,159.39 L412.00,159.33 L412.40,159.26 L412.80,159.19 L413.20,159.12 L413.60,159.03 L414.00,158.94 L414.40,158.84 L414.80,158.72 L415.20,158.60 L415.60,158.45 L416.00,158.30 L416.40,158.12 L416.80,157.92 L417.20,157.69 L417.60,157.43 L418.00,157.14 L418.40,156.80 L418.80,156.42 L419.20,155.98 L419.60,155.48 L420.00,154.92 L420.40,154.28 L420.80,153.58 L421.20,152.81 L421.60,152.01 L422.00,151.22 L422.40,150.49 L422.80,149.90 L423.20,149.51 L423.60,149.39 L424.00,149.54 L424.40,149.95 L424.80,150.55 L425.20,151.27 L425.60,152.04 L426.00,152.81 L426.40,153.53 L426.80,154.19 L427.20,154.77 L427.60,155.29 L428.00,155.75 L428.40,156.14 L428.80,156.47 L429.20,156.77 L429.60,157.02 L430.00,157.23 L430.40,157.42 L430.80,157.57 L431.20,157.71 L431.60,157.82 L432.00,157.92 L432.40,158.01 L432.80,158.07 L433.20,158.13 L433.60,158.18 L434.00,158.21 L434.40,158.24 L434.80,158.26 L435.20,158.27 L435.60,158.28 L436.00,158.28 L436.40,158.27 L436.80,158.26 L437.20,158.24 L437.60,158.21 L438.00,158.18 L438.40,158.14 L438.80,158.10 L439.20,158.05 L439.60,157.99 L440.00,157.93 L440.40,157.87 L440.80,157.79 L441.20,157.71 L441.60,157.62 L442.00,157.52 L442.40,157.42 L442.80,157.30 L443.20,157.17 L443.60,157.04 L444.00,156.89 L444.40,156.72 L444.80,156.54 L445.20,156.35 L445.60,156.14 L446.00,155.91 L446.40,155.65 L446.80,155.37 L447.20,155.07 L447.60,154.73 L448.00,154.35 L448.40,153.94 L448.80,153.48 L449.20,152.97 L449.60,152.39 L450.00,151.75 L450.40,151.03 L450.80,150.21 L451.20,149.29 L451.60,148.24 L452.00,147.04 L452.40,145.66 L452.80,144.08 L453.20,142.25 L453.60,140.14 L454.00,137.70 L454.40,134.87 L454.80,131.60 L455.20,127.85 L455.60,123.57 L456.00,118.78 L456.40,113.56 L456.80,108.11 L457.20,102.75 L457.60,98.00 L458.00,94.42 L458.40,92.57 L458.80,92.55 L459.20,93.53 L459.60,95.34 L460.00,97.83 L460.40,100.85 L460.80,104.23 L461.20,107.79 L461.60,111.40 L462.00,114.95 L462.40,118.37 L462.80,121.60 L463.20,124.61 L463.60,127.40 L464.00,129.95 L464.40,132.28 L464.80,134.41 L465.20,136.33 L465.60,138.08 L466.00,139.66 L466.40,141.10 L466.80,142.39 L467.20,143.57 L467.60,144.64 L468.00,145.61 L468.40,146.49 L468.80,147.29 L469.20,148.01 L469.60,148.67 L470.00,149.28 L470.40,149.82 L470.80,150.32 L471.20,150.77 L471.60,151.18 L472.00,151.55 L472.40,151.89 L472.80,152.19 L473.20,152.45 L473.60,152.69 L474.00,152.89 L474.40,153.06 L474.80,153.20 L475.20,153.30 L475.60,153.37 L476.00,153.41 L476.40,153.40 L476.80,153.35 L477.20,153.24 L477.60,153.08 L478.00,152.84 L478.40,152.52 L478.80,152.09 L479.20,151.53 L479.60,150.81 L480.00,149.89 L480.40,148.73 L480.80,147.27 L481.20,145.47 L481.60,143.33 L482.00,140.93 L482.40,138.52 L482.80,136.55 L483.20,135.55 L483.60,135.86 L484.00,137.42 L484.40,139.76 L484.80,142.36 L485.20,144.84 L485.60,147.02 L486.00,148.86 L486.40,150.37 L486.80,151.62 L487.20,152.63 L487.60,153.46 L488.00,154.15 L488.40,154.73 L488.80,155.22 L489.20,155.63 L489.60,155.98 L490.00,156.28 L490.40,156.55 L490.80,156.78 L491.20,156.98 L491.60,157.16 L492.00,157.32 L492.40,157.47 L492.80,157.60 L493.20,157.72 L493.60,157.83 L494.00,157.92 L494.40,158.01 L494.80,158.10 L495.20,158.17 L495.60,158.25 L496.00,158.31 L496.40,158.37 L496.80,158.43 L497.20,158.48 L497.60,158.53 L498.00,158.58 L498.40,158.63 L498.80,158.67 L499.20,158.71 L499.60,158.74 L500.00,158.78 L500.40,158.81 L500.80,158.85 L501.20,158.88 L501.60,158.91 L502.00,158.93 L502.40,158.96 L502.80,158.98 L503.20,159.01 L503.60,159.03 L504.00,159.05 L504.40,159.07 L504.80,159.10 L505.20,159.11 L505.60,159.13 L506.00,159.15 L506.40,159.17 L506.80,159.19 L507.20,159.20 L507.60,159.22 L508.00,159.23 L508.40,159.25 L508.80,159.26 L509.20,159.27 L509.60,159.29 L510.00,159.30 L510.40,159.31 L510.80,159.32 L511.20,159.33 L511.60,159.34 L512.00,159.35 L512.40,159.36 L512.80,159.37 L513.20,159.38 L513.60,159.39 L514.00,159.40 L514.40,159.41 L514.80,159.42 L515.20,159.43 L515.60,159.43 L516.00,159.44 L516.40,159.45 L516.80,159.46 L517.20,159.46 L517.60,159.47 L518.00,159.48 L518.40,159.48 L518.80,159.49 L519.20,159.49 L519.60,159.50 L520.00,159.51 L520.40,159.51 L520.80,159.52 L521.20,159.52 L521.60,159.53 L522.00,159.53 L522.40,159.54 L522.80,159.54 L523.20,159.54 L523.60,159.55 L524.00,159.55 L524.40,159.56 L524.80,159.56 L525.20,159.56 L525.60,159.57 L526.00,159.57 L526.40,159.58 L526.80,159.58 L527.20,159.58 L527.60,159.58 L528.00,159.59 L528.40,159.59 L528.80,159.59 L529.20,159.60 L529.60,159.60 L530.00,159.60 L530.40,159.60 L530.80,159.61 L531.20,159.61 L531.60,159.61 L532.00,159.61 L532.40,159.62 L532.80,159.62 L533.20,159.62" stroke="#ff1010"/>
  <path d="M383.60,262.59 L384.00,262.58 L384.40,262.57 L384.80,262.56 L385.20,262.56 L385.60,262.55 L386.00,262.54 L386.40,262.54 L386.80,262.53 L387.20,262.52 L387.60,262.51 L388.00,262.51 L388.40,262.50 L388.80,262.49 L389.20,262.48 L389.60,262.47 L390.00,262.47 L390.40,262.46 L390.80,262.45 L391.20,262.44 L391.60,262.43 L392.00,262.42 L392.40,262.41 L392.80,262.40 L393.20,262.39 L393.60,262.38 L394.00,262.37 L394.40,262.36 L394.80,262.35 L395.20,262.34 L395.60,262.33 L396.00,262.32 L396.40,262.31 L396.80,262.30 L397.20,262.28 L397.60,262.27 L398.00,262.26 L398.40,262.25 L398.80,262.23 L399.20,262.22 L399.60,262.20 L400.00,262.19 L400.40,262.17 L400.80,262.16 L401.20,262.14 L401.60,262.12 L402.00,262.11 L402.40,262.09 L402.80,262.07 L403.20,262.05 L403.60,262.03 L404.00,262.01 L404.40,261.99 L404.80,261.96 L405.20,261.94 L405.60,261.91 L406.00,261.89 L406.40,261.86 L406.80,261.83 L407.20,261.80 L407.60,261.77 L408.00,261.73 L408.40,261.70 L408.80,261.66 L409.20,261.62 L409.60,261.57 L410.00,261.53 L410.40,261.48 L410.80,261.42 L411.20,261.36 L411.60,261.30 L412.00,261.23 L412.40,261.16 L412.80,261.08 L413.20,261.00 L413.60,260.90 L414.00,260.80 L414.40,260.68 L414.80,260.55 L415.20,260.41 L415.60,260.25 L416.00,260.08 L416.40,259.88 L416.80,259.65 L417.20,259.40 L417.60,259.11 L418.00,258.78 L418.40,258.39 L418.80,257.95 L419.20,257.43 L419.60,256.83 L420.00,256.14 L420.40,255.33 L420.80,254.39 L421.20,253.32 L421.60,252.11 L422.00,250.80 L422.40,249.44 L422.80,248.12 L423.20,246.99 L423.60,246.22 L424.00,245.93 L424.40,246.18 L424.80,246.91 L425.20,248.00 L425.60,249.28 L426.00,250.60 L426.40,251.88 L426.80,253.04 L427.20,254.07 L427.60,254.97 L428.00,255.74 L428.40,256.39 L428.80,256.95 L429.20,257.42 L429.60,257.82 L430.00,258.15 L430.40,258.44 L430.80,258.69 L431.20,258.89 L431.60,259.07 L432.00,259.22 L432.40,259.34 L432.80,259.45 L433.20,259.53 L433.60,259.61 L434.00,259.66 L434.40,259.71 L434.80,259.74 L435.20,259.76 L435.60,259.78 L436.00,259.78 L436.40,259.78 L436.80,259.77 L437.20,259.75 L437.60,259.72 L438.00,259.69 L438.40,259.65 L438.80,259.60 L439.20,259.54 L439.60,259.48 L440.00,259.41 L440.40,259.33 L440.80,259.24 L441.20,259.14 L441.60,259.04 L442.00,258.92 L442.40,258.80 L442.80,258.66 L443.20,258.51 L443.60,258.35 L444.00,258.17 L444.40,257.98 L444.80,257.77 L445.20,257.54 L445.60,257.29 L446.00,257.01 L446.40,256.71 L446.80,256.38 L447.20,256.02 L447.60,255.61 L448.00,255.17 L448.40,254.68 L448.80,254.13 L449.20,253.52 L449.60,252.83 L450.00,252.06 L450.40,251.19 L450.80,250.21 L451.20,249.09 L451.60,247.80 L452.00,246.33 L452.40,244.63 L452.80,242.65 L453.20,240.35 L453.60,237.65 L454.00,234.46 L454.40,230.69 L454.80,226.22 L455.20,220.90 L455.60,214.60 L456.00,207.18 L456.40,198.56 L456.80,188.83 L457.20,178.34 L457.60,167.84 L458.00,158.58 L458.40,152.11 L458.80,149.81 L459.20,150.68 L459.60,153.18 L460.00,157.09 L460.40,162.11 L460.80,167.89 L461.20,174.11 L461.60,180.46 L462.00,186.72 L462.40,192.74 L462.80,198.41 L463.20,203.68 L463.60,208.52 L464.00,212.93 L464.40,216.92 L464.80,220.54 L465.20,223.79 L465.60,226.72 L466.00,229.36 L466.40,231.74 L466.80,233.87 L467.20,235.80 L467.60,237.54 L468.00,239.10 L468.40,240.52 L468.80,241.80 L469.20,242.95 L469.60,244.00 L470.00,244.95 L470.40,245.80 L470.80,246.57 L471.20,247.27 L471.60,247.89 L472.00,248.45 L472.40,248.95 L472.80,249.38 L473.20,249.76 L473.60,250.09 L474.00,250.36 L474.40,250.57 L474.80,250.73 L475.20,250.82 L475.60,250.86 L476.00,250.82 L476.40,250.71 L476.80,250.50 L477.20,250.20 L477.60,249.78 L478.00,249.22 L478.40,248.48 L478.80,247.54 L479.20,246.34 L479.60,244.83 L480.00,242.93 L480.40,240.56 L480.80,237.67 L481.20,234.20 L481.60,230.25 L482.00,226.07 L482.40,222.24 L482.80,219.54 L483.20,218.75 L483.60,220.15 L484.00,223.34 L484.40,227.53 L484.80,231.94 L485.20,236.06 L485.60,239.67 L486.00,242.72 L486.40,245.25 L486.80,247.34 L487.20,249.06 L487.60,250.49 L488.00,251.68 L488.40,252.68 L488.80,253.52 L489.20,254.24 L489.60,254.86 L490.00,255.39 L490.40,255.85 L490.80,256.26 L491.20,256.62 L491.60,256.94 L492.00,257.22 L492.40,257.48 L492.80,257.71 L493.20,257.92 L493.60,258.11 L494.00,258.28 L494.40,258.44 L494.80,258.58 L495.20,258.72 L495.60,258.84 L496.00,258.95 L496.40,259.06 L496.80,259.16 L497.20,259.25 L497.60,259.34 L498.00,259.42 L498.40,259.50 L498.80,259.57 L499.20,259.64 L499.60,259.70 L500.00,259.76 L500.40,259.82 L500.80,259.87 L501.20,259.92 L501.60,259.97 L502.00,260.02 L502.40,260.06 L502.80,260.10 L503.20,260.14 L503.60,260.18 L504.00,260.22 L504.40,260.25 L504.80,260.29 L505.20,260.32 L505.60,260.35 L506.00,260.38 L506.40,260.41 L506.80,260.43 L507.20,260.46 L507.60,260.49 L508.00,260.51 L508.40,260.53 L508.80,260.55 L509.20,260.58 L509.60,260.60 L510.00,260.62 L510.40,260.64 L510.80,260.65 L511.20,260.67 L511.60,260.69 L512.00,260.71 L512.40,260.72 L512.80,260.74 L513.20,260.75 L513.60,260.77 L514.00,260.78 L514.40,260.80 L514.80,260.81 L515.20,260.82 L515.60,260.83 L516.00,260.85 L516.40,260.86 L516.80,260.87 L517.20,260.88 L517.60,260.89 L518.00,260.90 L518.40,260.91 L518.80,260.92 L519.20,260.93 L519.60,260.94 L520.00,260.94 L520.40,260.95 L520.80,260.96 L521.20,260.97 L521.60,260.98 L522.00,260.98 L522.40,260.99 L522.80,261.00 L523.20,261.00 L523.60,261.01 L524.00,261.02 L524.40,261.02 L524.80,261.03 L525.20,261.03 L525.60,261.04 L526.00,261.05 L526.40,261.05 L526.80,261.06 L527.20,261.06 L527.60,261.06 L528.00,261.07 L528.40,261.07 L528.80,261.08 L529.20,261.08 L529.60,261.09 L530.00,261.09 L530.40,261.09 L530.80,261.10 L531.20,261.10 L531.60,261.10 L532.00,261.11 L532.40,261.11 L532.80,261.11 L533.20,261.11" stroke="#111"/>
</g>
<rect x="383.6" y="7.2" width="149.8" height="266.2" fill="none" stroke="#111" stroke-width="1.45"/>
<g stroke="#111" stroke-width="1.1">
<line x1="383.60" y1="273.4" x2="383.60" y2="278.2"/>
<line x1="402.32" y1="273.4" x2="402.32" y2="275.8"/>
<line x1="421.04" y1="273.4" x2="421.04" y2="278.2"/>
<line x1="439.76" y1="273.4" x2="439.76" y2="275.8"/>
<line x1="458.48" y1="273.4" x2="458.48" y2="278.2"/>
<line x1="477.20" y1="273.4" x2="477.20" y2="275.8"/>
<line x1="495.92" y1="273.4" x2="495.92" y2="278.2"/>
<line x1="514.64" y1="273.4" x2="514.64" y2="275.8"/>
<line x1="533.36" y1="273.4" x2="533.36" y2="278.2"/>
<line x1="381.20" y1="32.90" x2="383.6" y2="32.90"/>
<line x1="378.80" y1="58.55" x2="383.6" y2="58.55"/>
<line x1="381.20" y1="84.20" x2="383.6" y2="84.20"/>
<line x1="378.80" y1="109.85" x2="383.6" y2="109.85"/>
<line x1="381.20" y1="135.50" x2="383.6" y2="135.50"/>
<line x1="378.80" y1="161.15" x2="383.6" y2="161.15"/>
<line x1="381.20" y1="186.80" x2="383.6" y2="186.80"/>
<line x1="378.80" y1="212.45" x2="383.6" y2="212.45"/>
<line x1="381.20" y1="238.10" x2="383.6" y2="238.10"/>
<line x1="378.80" y1="263.75" x2="383.6" y2="263.75"/>
<line x1="378.8" y1="7.2" x2="383.6" y2="7.2"/>
</g>
<g class="serif" font-size="13.6" fill="#6a6a6a">
  <text x="385.4" y="19.6">E<tspan font-size="9.5" dy="2">1</tspan><tspan dy="-2">-TO</tspan></text>
  <text x="443.4" y="19.6">A<tspan font-size="9.5" dy="2">1</tspan></text>
  <text x="489.3" y="19.6">E<tspan font-size="9.5" dy="2">2</tspan></text>
</g>
<g class="serif" font-size="14" stroke-width="0.15">
  <text x="492.4" y="53.1" fill="#148a14" stroke="#148a14">45 nm</text>
  <text x="492.6" y="92.7" fill="#1010f5" stroke="#1010f5">34 nm</text>
  <text x="492.2" y="153.9" fill="#ff1010" stroke="#ff1010">26 nm</text>
  <text x="492.6" y="253.9" fill="#111" stroke="#111">20 nm</text>
</g>
<g class="serif" font-size="14" fill="#111" stroke="#111" stroke-width="0.12">
  <text x="356.4" y="20.6" stroke-width="0">(e)</text>
  <g text-anchor="middle">
    <text x="383.6" y="292.8">60</text>
    <text x="421" y="292.8">90</text>
    <text x="458.5" y="292.8">120</text>
    <text x="495.9" y="292.8">150</text>
    <text x="533.4" y="292.8">180</text>
  </g>
  <text x="409.2" y="312.5" font-size="14.2">Raman shift (cm<tspan font-size="9.5" dy="-5.5">−1</tspan><tspan dy="5.5">)</tspan></text>
  <text transform="translate(364.6,139.4) rotate(-90)" text-anchor="middle" font-size="14.3">Intensity (a.u.)</text>
</g>
</svg>
</body></html>
